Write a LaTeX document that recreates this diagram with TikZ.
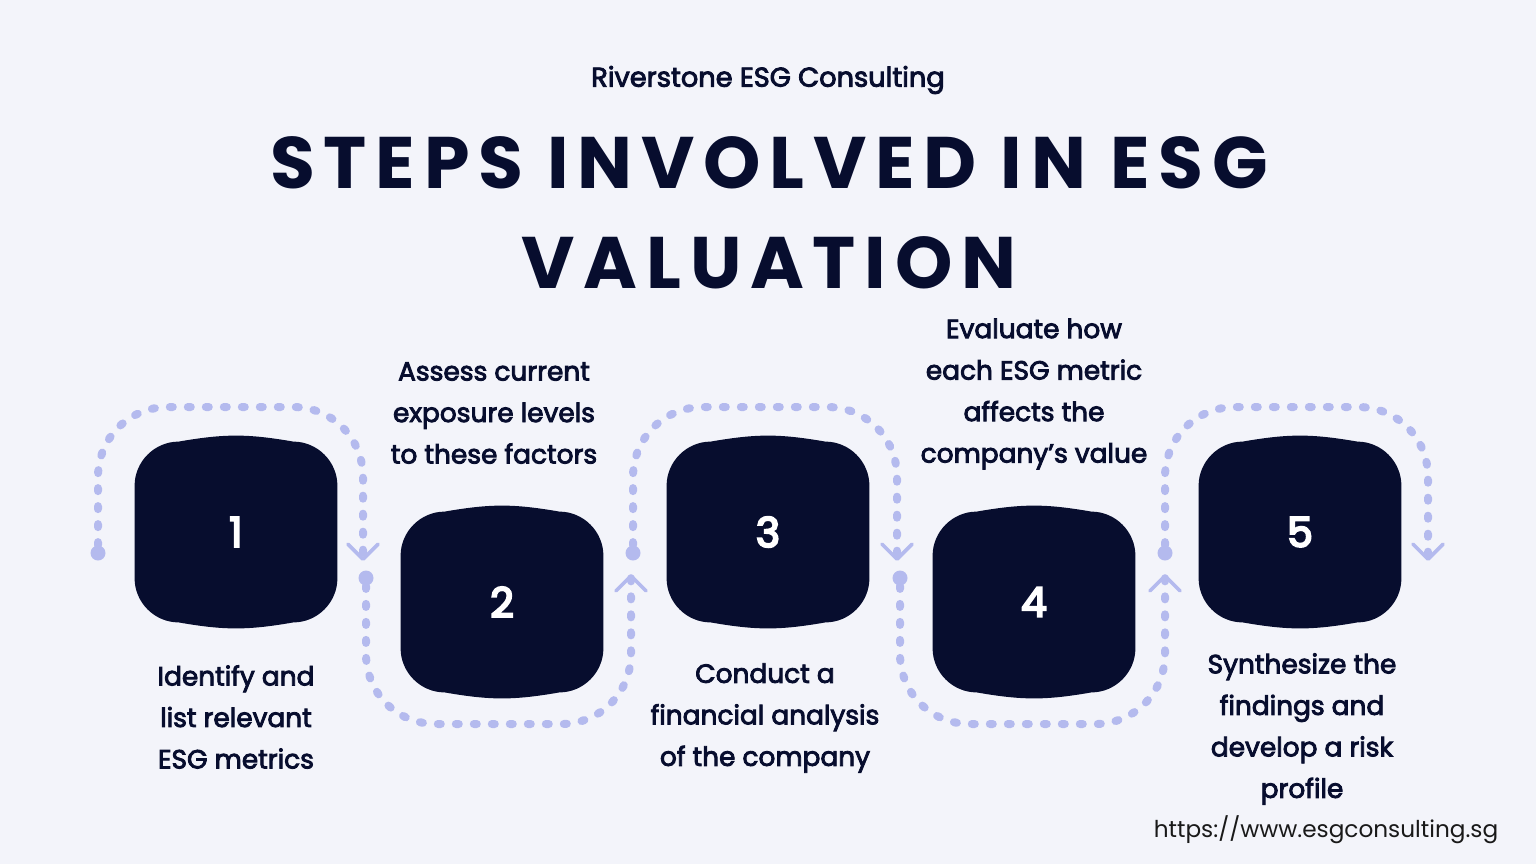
\documentclass[tikz,border=0pt]{standalone}
\usepackage{fontspec}
\setmainfont{Poppins}
\newfontfamily\bodyfont[FakeBold=3.2]{Poppins}
\newfontfamily\numfont[FakeBold=5]{Poppins}
\newfontfamily\titlefont[LetterSpace=12]{Poppins}
\usetikzlibrary{arrows.meta, backgrounds}
\definecolor{bgcol}{RGB}{243,244,250}
\definecolor{navy}{RGB}{7,13,46}
\definecolor{lav}{RGB}{180,186,238}

\tikzset{
	block/.style={rectangle, minimum width=101pt, minimum height=90pt, text=white, font=\numfont\fontsize{20.5}{20.5}\selectfont},
	flow/.style={draw=lav, line width=4pt, line cap=round, dash pattern=on 1.5pt off 7.5pt, -{Straight Barb[length=7.5pt, width=15pt, line width=1.8pt, round]}},
	dot/.style={circle, fill=lav, minimum size=7.5pt, inner sep=0pt},
	desc/.style={align=center, text=navy, font=\bodyfont\fontsize{13.2}{20.75}\selectfont},
}

\begin{document}
\begin{tikzpicture}[x=0.5pt, y=-0.5pt]
		\begin{scope}[on background layer]
			\fill [bgcol] (0,0) rectangle (1536,864);
		\end{scope}
		
		\node (brand) [text=navy, font=\bodyfont\fontsize{13.6}{14}\selectfont] at (768,80) {Riverstone ESG Consulting};
		\node (title) [align=center, text=navy, font=\titlefont\bfseries\fontsize{36.5}{50}\selectfont] at (769,213) {STEPS INVOLVED IN ESG\\VALUATION};
		
		\node (b1) [block] at (236,532) {1};
		\node (b2) [block] at (502,602) {2};
		\node (b3) [block] at (768,532) {3};
		\node (b4) [block] at (1034,602) {4};
		\node (b5) [block] at (1300,532) {5};
		\begin{scope}[on background layer]
			\foreach \b in {b1,b2,b3,b4,b5} {
				\fill [navy] ([xshift=-22pt]\b.north east) .. controls ([xshift=-10pt]\b.north east) and ([yshift=-10pt]\b.north east) .. ([yshift=-22pt]\b.north east)
					-- ([yshift=22pt]\b.south east) .. controls ([yshift=10pt]\b.south east) and ([xshift=-10pt]\b.south east) .. ([xshift=-22pt]\b.south east)
					.. controls ([xshift=-45pt, yshift=-4pt]\b.south east) and ([xshift=45pt, yshift=-4pt]\b.south west) .. ([xshift=22pt]\b.south west)
					.. controls ([xshift=10pt]\b.south west) and ([yshift=10pt]\b.south west) .. ([yshift=22pt]\b.south west)
					-- ([yshift=-22pt]\b.north west) .. controls ([yshift=-10pt]\b.north west) and ([xshift=10pt]\b.north west) .. ([xshift=22pt]\b.north west)
					.. controls ([xshift=45pt, yshift=4pt]\b.north west) and ([xshift=-45pt, yshift=4pt]\b.north east) .. ([xshift=-22pt]\b.north east) -- cycle;
			}
		\end{scope}
		
		\node (txt1) [desc] at (236,717) {Identify and\\list relevant\\ESG metrics};
		\node (txt2) [desc] at (494,413) {Assess current\\exposure levels\\to these factors};
		\node (txt3) [desc] at (765,718) {Conduct a\\financial analysis\\of the company};
		\node (txt4) [desc] at (1034,394) {Evaluate how\\each ESG metric\\affects the\\company’s value};
		\node (txt5) [desc] at (1302,729) {Synthesize the\\findings and\\develop a risk\\profile};
		
		\node (s1) [dot] at (98,553) {};
		\node (s2) [dot] at (366,578) {};
		\node (s3) [dot] at (633,553) {};
		\node (s4) [dot] at (900,578) {};
		\node (s5) [dot] at (1165,553) {};
		
		\coordinate (e1) at (363,561);
		\coordinate (e2) at (631,574);
		\coordinate (e3) at (897,561);
		\coordinate (e4) at (1165,574);
		\coordinate (e5) at (1428,561);
		
		\draw [flow] (s1) -- ++(0,-76) .. controls +(0,-39) and +(-39,0) .. ++(70,-70) -- ++(125,0) .. controls +(39,0) and +(0,-39) .. ++(70,70) -- (e1);
		\draw [flow] (s2) -- ++(0,76) .. controls +(0,39) and +(-39,0) .. ++(70,70) -- ++(125,0) .. controls +(39,0) and +(0,39) .. ++(70,-70) -- (e2);
		\draw [flow] (s3) -- ++(0,-76) .. controls +(0,-39) and +(-39,0) .. ++(70,-70) -- ++(124,0) .. controls +(39,0) and +(0,-39) .. ++(70,70) -- (e3);
		\draw [flow] (s4) -- ++(0,76) .. controls +(0,39) and +(-39,0) .. ++(70,70) -- ++(125,0) .. controls +(39,0) and +(0,39) .. ++(70,-70) -- (e4);
		\draw [flow] (s5) -- ++(0,-76) .. controls +(0,-39) and +(-39,0) .. ++(70,-70) -- ++(123,0) .. controls +(39,0) and +(0,-39) .. ++(70,70) -- (e5);
		
		\node (url) [text=black!90, font=\fontsize{11.6}{12}\selectfont] at (1326,830) {https://www.esgconsulting.sg};
		
\end{tikzpicture}
\end{document}
